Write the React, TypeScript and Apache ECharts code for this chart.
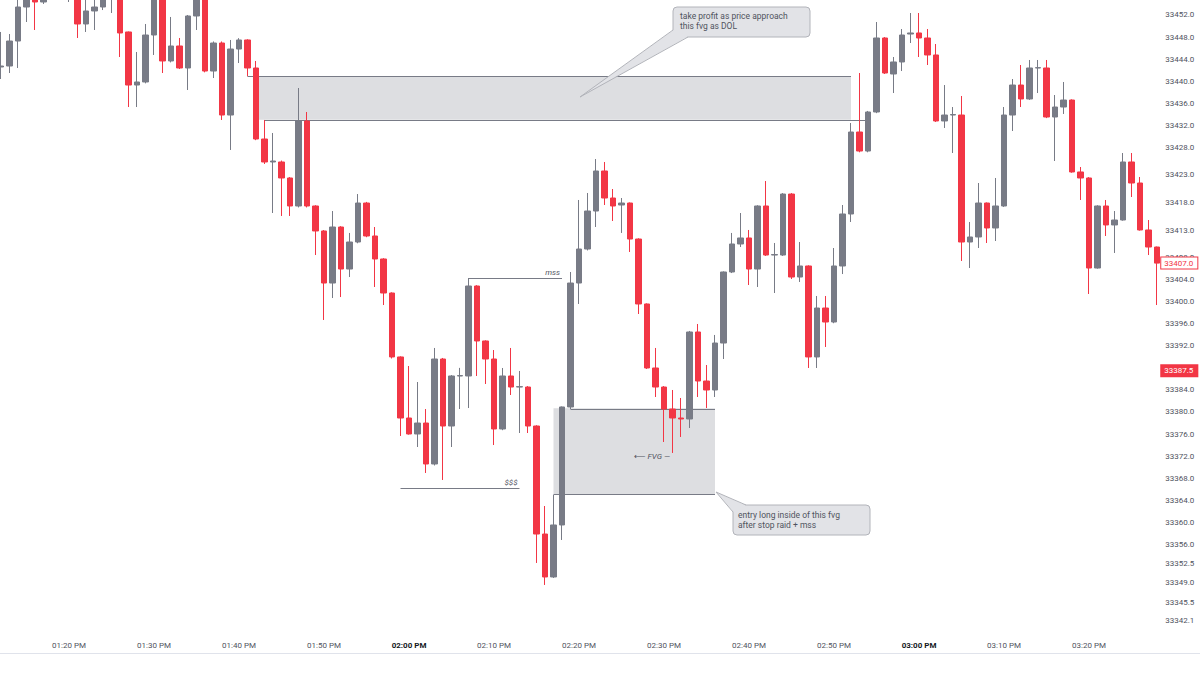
import React, { useEffect, useRef } from "react";
import * as echarts from "echarts";

// 1-minute candles starting at 01:12 PM
const startMinute = 13 * 60 + 12;
const candleCount = 137;
const categories: string[] = Array.from({ length: candleCount }, (_, i) => {
  const m = startMinute + i;
  const h = Math.floor(m / 60) % 12 || 12;
  const mm = m % 60;
  return `${String(h).padStart(2, "0")}:${String(mm).padStart(2, "0")} PM`;
});

const opens = [
  33442.57, 33442.75, 33447.28, 33453.45, 33457.0, 33454.36, 33457.8, 33459.5, 33456.8, 33458.0,
  33450.37, 33452.73, 33453.45, 33456.0, 33457.2, 33448.92, 33439.3, 33439.85, 33448.37, 33455.5,
  33443.66, 33446.38, 33442.39, 33451.82, 33455.5, 33441.84, 33446.92, 33433.86, 33445.83, 33447.47,
  33442.39, 33429.51, 33425.34, 33425.34, 33422.44, 33417.36, 33432.78, 33417.36, 33412.83, 33403.39,
  33413.55, 33405.93, 33410.83, 33417.9, 33411.92, 33407.75, 33401.58, 33389.98, 33378.91, 33376.01,
  33378.0, 33370.57, 33389.61, 33377.46, 33386.53, 33386.53, 33402.85, 33392.88, 33389.61, 33376.92,
  33386.53, 33384.53, 33384.53, 33377.46, 33357.87, 33350.08, 33359.51, 33380.91, 33403.39, 33409.56,
  33416.45, 33423.71, 33418.81, 33417.54, 33417.9, 33411.37, 33399.59, 33387.98, 33384.53, 33380.54,
  33378.91, 33378.73, 33394.51, 33385.62, 33383.99, 33392.51, 33405.39, 33410.47, 33411.56, 33405.93,
  33417.36, 33408.47, 33408.47, 33419.53, 33404.48, 33406.48, 33389.98, 33398.86, 33396.32, 33406.48,
  33415.91, 33430.78, 33427.33, 33434.41, 33447.83, 33441.3, 33443.48, 33448.55, 33448.74, 33447.83,
  33444.75, 33432.78, 33433.86, 33433.86, 33410.83, 33411.74, 33417.9, 33413.37, 33417.36, 33433.86,
  33439.3, 33436.77, 33442.39, 33442.39, 33433.5, 33435.31, 33436.58, 33423.53, 33422.44, 33406.11,
  33417.36, 33413.92, 33414.82, 33425.34, 33421.53, 33413.01, 33409.92,
];

const closes = [
  33442.75, 33447.28, 33453.45, 33457.5, 33454.36, 33457.8, 33459.5, 33456.8, 33458.0, 33450.37,
  33452.73, 33453.45, 33456.0, 33457.2, 33448.74, 33439.3, 33439.85, 33448.37, 33455.5, 33443.66,
  33446.38, 33442.39, 33451.82, 33455.5, 33441.84, 33446.92, 33433.86, 33445.83, 33447.47, 33442.39,
  33429.51, 33425.34, 33425.52, 33422.44, 33417.36, 33432.78, 33417.36, 33412.83, 33403.39, 33413.55,
  33405.93, 33410.83, 33417.9, 33411.92, 33407.75, 33401.58, 33389.98, 33378.91, 33376.01, 33378.0,
  33370.57, 33389.61, 33377.46, 33386.53, 33386.6, 33402.85, 33392.88, 33389.61, 33376.92, 33386.53,
  33384.53, 33384.6, 33377.46, 33357.87, 33350.08, 33359.51, 33380.91, 33403.39, 33409.56, 33416.45,
  33423.71, 33418.81, 33417.36, 33417.9, 33411.37, 33399.59, 33387.98, 33384.53, 33380.54, 33378.91,
  33378.73, 33394.51, 33385.62, 33383.99, 33392.51, 33405.39, 33410.47, 33411.56, 33405.93, 33417.36,
  33408.47, 33408.55, 33419.53, 33404.48, 33406.48, 33389.98, 33398.86, 33396.32, 33406.48, 33415.91,
  33430.78, 33427.33, 33434.41, 33447.83, 33441.48, 33443.48, 33448.37, 33448.74, 33447.83, 33444.75,
  33432.78, 33433.86, 33433.95, 33410.83, 33411.74, 33417.9, 33413.37, 33417.36, 33433.86, 33439.3,
  33436.77, 33442.39, 33442.45, 33433.5, 33435.31, 33436.58, 33423.53, 33422.44, 33406.11, 33417.36,
  33413.92, 33414.82, 33425.34, 33421.53, 33413.01, 33409.92, 33407.0,
];

const lows = [
  33440.39, 33441.48, 33442.39, 33450.73, 33449.28, 33454.0, 33456.5, 33455.8, 33454.36, 33447.83,
  33448.92, 33449.28, 33452.9, 33452.36, 33444.38, 33435.31, 33435.31, 33439.6, 33444.75, 33441.48,
  33443.4, 33442.2, 33438.4, 33449.28, 33441.6, 33440.57, 33432.96, 33427.52, 33443.29, 33440.9,
  33429.3, 33424.98, 33416.09, 33415.55, 33415.55, 33417.1, 33417.1, 33408.47, 33396.69, 33400.67,
  33400.85, 33404.48, 33410.6, 33411.7, 33402.67, 33399.4, 33389.7, 33375.65, 33375.9, 33373.65,
  33368.94, 33370.3, 33367.67, 33373.65, 33380.54, 33380.72, 33386.53, 33385.08, 33374.01, 33376.7,
  33383.08, 33376.19, 33376.19, 33352.62, 33348.63, 33349.9, 33356.79, 33380.54, 33399.59, 33409.3,
  33413.55, 33417.54, 33414.64, 33412.47, 33409.02, 33397.77, 33387.8, 33382.72, 33374.56, 33372.57,
  33375.47, 33377.1, 33382.72, 33380.72, 33382.72, 33389.61, 33405.2, 33409.92, 33403.03, 33402.67,
  33408.3, 33401.58, 33408.3, 33404.12, 33403.58, 33387.98, 33387.98, 33391.79, 33396.1, 33405.02,
  33414.46, 33427.1, 33427.1, 33434.2, 33441.3, 33437.85, 33441.84, 33446.92, 33444.38, 33442.93,
  33432.6, 33431.51, 33426.97, 33407.39, 33406.11, 33409.74, 33410.65, 33411.01, 33417.2, 33430.96,
  33435.31, 33436.6, 33437.85, 33433.3, 33425.52, 33434.05, 33423.4, 33418.45, 33401.4, 33406.0,
  33411.92, 33408.84, 33414.7, 33418.99, 33412.9, 33408.47, 33399.4,
];

const highs = [
  33448.92, 33448.55, 33456.0, 33459.0, 33458.5, 33459.5, 33461.0, 33461.5, 33459.0, 33459.0,
  33455.2, 33455.5, 33457.0, 33458.0, 33458.0, 33449.0, 33445.29, 33450.37, 33457.0, 33456.5,
  33451.64, 33447.83, 33452.0, 33456.5, 33456.0, 33447.2, 33447.2, 33447.47, 33447.8, 33447.6,
  33443.66, 33432.96, 33430.6, 33425.6, 33422.6, 33438.76, 33434.41, 33417.5, 33413.0, 33416.45,
  33413.7, 33412.47, 33419.53, 33418.1, 33413.55, 33407.9, 33401.7, 33390.1, 33388.34, 33385.44,
  33380.54, 33391.61, 33389.8, 33386.7, 33388.0, 33404.3, 33403.0, 33393.0, 33391.24, 33387.98,
  33391.61, 33387.44, 33384.7, 33377.6, 33362.95, 33364.95, 33381.0, 33405.39, 33418.45, 33419.72,
  33425.88, 33425.34, 33420.44, 33418.81, 33418.0, 33411.5, 33399.7, 33391.61, 33384.7, 33383.99,
  33382.54, 33394.7, 33395.96, 33388.52, 33393.97, 33405.5, 33412.47, 33416.09, 33413.01, 33417.5,
  33421.89, 33410.65, 33419.7, 33419.7, 33410.83, 33406.6, 33401.04, 33401.04, 33409.74, 33417.54,
  33432.41, 33441.48, 33434.6, 33450.73, 33448.0, 33444.38, 33449.46, 33452.36, 33452.36, 33449.46,
  33446.74, 33439.3, 33435.31, 33437.31, 33414.46, 33421.53, 33418.0, 33422.44, 33435.31, 33440.39,
  33442.93, 33443.84, 33443.84, 33443.84, 33437.49, 33439.85, 33436.7, 33424.43, 33422.6, 33417.5,
  33418.45, 33416.45, 33426.97, 33426.97, 33422.62, 33414.82, 33410.0,
];

// right price-scale tick labels
const priceTicks = [
  33452.0, 33448.0, 33444.0, 33440.0, 33436.0, 33432.0, 33428.0, 33423.0, 33418.0, 33413.0,
  33408.0, 33404.0, 33400.0, 33396.0, 33392.0, 33388.0, 33384.0, 33380.0, 33376.0, 33372.0,
  33368.0, 33364.0, 33360.0, 33356.0, 33352.5, 33349.0, 33345.5, 33342.1,
];
const yMin = 33340.1;
const yMax = 33454.72;

// annotation levels
const bearFvgTop = 33440.9; // low of 01:41 candle
const bearFvgBottom = 33433.0; // high of 01:43 candle
const bullFvgTop = 33380.7;
const bullFvgBottom = 33365.0;
const mssLevel = 33404.3;
const sssLevel = 33366.2;
const lastPrice = 33407.0;
const markedPrice = 33387.5;

const UP = "#787b86";
const DOWN = "#f23645";
const TXT = "#50535e";

export default function App() {
  const ref = useRef<HTMLDivElement>(null);

  useEffect(() => {
    document.body.style.margin = "0";
    if (!ref.current) return;
    const chart = echarts.init(ref.current, undefined, { renderer: "svg" });
    const c = (i: number) => categories[i];
    const seg = (i0: number, i1: number, v: number, extra: any = {}) => [
      { coord: [c(i0), v], ...extra },
      { coord: [c(i1), v] },
    ];
    const italicLabel = (t: string) => ({
      label: {
        show: true,
        formatter: t,
        position: "insideEndTop",
        distance: 2,
        fontStyle: "italic",
        fontSize: 8,
        color: TXT,
        fontFamily: "Roboto",
      },
    });
    const priceTag = (v: number, filled: boolean) => ({
      yAxis: v,
      lineStyle: { width: 0, color: "rgba(0,0,0,0)" },
      label: {
        show: true,
        position: "end",
        distance: 0,
        formatter: v.toFixed(1),
        fontSize: 8,
        fontFamily: "Roboto",
        color: filled ? "#ffffff" : DOWN,
        backgroundColor: filled ? DOWN : "#ffffff",
        borderColor: DOWN,
        borderWidth: 1,
        padding: [2, 4, 1, 3],
      },
    });

    const option: any = {
      animation: false,
      backgroundColor: "#ffffff",
      textStyle: { fontFamily: "Roboto" },
      grid: {
        left: -3.25,
        width: 1164.5,
        top: 0,
        height: 632,
        containLabel: false,
        outerBoundsMode: "none",
      },
      xAxis: {
        type: "category",
        data: categories,
        boundaryGap: true,
        axisLine: { show: false },
        axisTick: { show: false },
        splitLine: { show: false },
        axisLabel: {
          interval: (index: number) => (startMinute + index) % 10 === 0,
          margin: 9,
          fontSize: 8,
          color: TXT,
          fontFamily: "Roboto",
          formatter: (v: string) =>
            v === "02:00 PM" || v === "03:00 PM" ? `{b|${v}}` : v,
          rich: {
            b: { fontWeight: "bold", color: "#131722", fontSize: 8, fontFamily: "Roboto" },
          },
        },
      },
      yAxis: {
        type: "value",
        position: "right",
        min: yMin,
        max: yMax,
        scale: true,
        splitLine: { show: false },
        axisLine: { show: false },
        axisTick: { show: false },
        axisLabel: {
          customValues: priceTicks,
          formatter: (v: number) => v.toFixed(1),
          fontSize: 8,
          color: TXT,
          margin: 4,
          fontFamily: "Roboto",
        },
      },
      series: [
        {
          type: "candlestick",
          barWidth: 6,
          z: 5,
          data: categories.map((_, i) => [opens[i], closes[i], lows[i], highs[i]]),
          itemStyle: {
            color: UP,
            color0: DOWN,
            borderColor: UP,
            borderColor0: DOWN,
            borderWidth: 1,
          },
          markArea: {
            silent: true,
            itemStyle: { color: "rgba(120,123,134,0.25)" },
            data: [
              [
                { xAxis: c(30), yAxis: bearFvgTop },
                { xAxis: c(100), yAxis: bearFvgBottom },
              ],
              [
                { xAxis: c(65), yAxis: bullFvgTop },
                { xAxis: c(84), yAxis: bullFvgBottom },
              ],
            ],
          },
          markLine: {
            silent: true,
            symbol: ["none", "none"],
            lineStyle: { color: UP, width: 1, type: "solid" },
            label: { show: false },
            data: [
              seg(29, 100, bearFvgTop),
              seg(31, 102, bearFvgBottom),
              seg(67, 84, 33380.5),
              seg(65, 84, bullFvgBottom),
              seg(55, 66, mssLevel, italicLabel("mss")),
              seg(47, 61, sssLevel, italicLabel("$$$")),
              priceTag(lastPrice, false),
              priceTag(markedPrice, true),
            ],
          },
        },
      ],
      graphic: [
        // bottom separator
        {
          type: "line",
          shape: { x1: 0, y1: 653.5, x2: 1200, y2: 653.5 },
          style: { stroke: "#e0e3eb", lineWidth: 1 },
          silent: true,
        },
        // callout 1
        {
          type: "rect",
          shape: { x: 673, y: 7, width: 137, height: 30, r: 4 },
          style: { fill: "#e2e3e7", stroke: "#b2b4ba", lineWidth: 1 },
          z: 10,
        },
        {
          type: "polygon",
          shape: { points: [[580, 97], [673.5, 30], [688, 36.5]] },
          style: { fill: "#e2e3e7" },
          z: 11,
        },
        {
          type: "polyline",
          shape: { points: [[673, 30], [580, 97], [688, 37]] },
          style: { stroke: "#b2b4ba", lineWidth: 1, fill: "none" },
          z: 11,
        },
        {
          type: "text",
          x: 680,
          y: 16,
          style: {
            text: "take profit as price approach",
            fill: TXT,
            fontSize: 8.5,
            fontFamily: "Roboto",
            verticalAlign: "middle",
          },
          z: 12,
        },
        {
          type: "text",
          x: 680,
          y: 26,
          style: {
            text: "this fvg as DOL",
            fill: TXT,
            fontSize: 8.5,
            fontFamily: "Roboto",
            verticalAlign: "middle",
          },
          z: 12,
        },
        // callout 2
        {
          type: "rect",
          shape: { x: 733, y: 505, width: 137, height: 30, r: 4 },
          style: { fill: "#e2e3e7", stroke: "#b2b4ba", lineWidth: 1 },
          z: 10,
        },
        {
          type: "polygon",
          shape: { points: [[716, 492], [733.5, 512], [746, 505.5]] },
          style: { fill: "#e2e3e7" },
          z: 11,
        },
        {
          type: "polyline",
          shape: { points: [[733, 512], [716, 492], [746, 505]] },
          style: { stroke: "#b2b4ba", lineWidth: 1, fill: "none" },
          z: 11,
        },
        {
          type: "text",
          x: 738,
          y: 515,
          style: {
            text: "entry long inside of this fvg",
            fill: TXT,
            fontSize: 8.5,
            fontFamily: "Roboto",
            verticalAlign: "middle",
          },
          z: 12,
        },
        {
          type: "text",
          x: 738,
          y: 525,
          style: {
            text: "after stop raid + mss",
            fill: TXT,
            fontSize: 8.5,
            fontFamily: "Roboto",
            verticalAlign: "middle",
          },
          z: 12,
        },
        // FVG label
        {
          type: "text",
          x: 652,
          y: 456,
          style: {
            text: "⟵ FVG —",
            fill: TXT,
            fontSize: 8,
            fontStyle: "italic",
            fontFamily: "Roboto, 'DejaVu Sans'",
            align: "center",
            verticalAlign: "middle",
          },
          z: 12,
        },
      ],
    };

    chart.setOption(option);
    return () => chart.dispose();
  }, []);

  return <div ref={ref} style={{ width: 1200, height: 675 }} />;
}
